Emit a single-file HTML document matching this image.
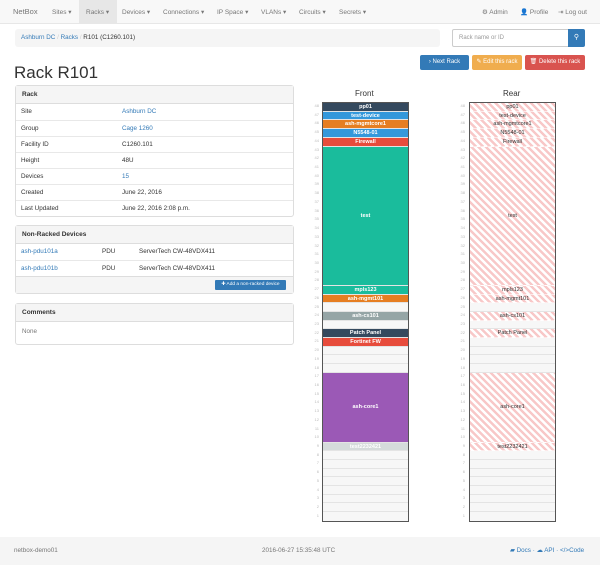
<!DOCTYPE html>
<html><head><meta charset="utf-8"><style>
*{box-sizing:border-box;margin:0;padding:0}
body{width:600px;height:565px;position:relative;background:#fff;font-family:"Liberation Sans",sans-serif;font-size:7px;color:#333;overflow:hidden}
.a{position:absolute}
.nav{left:0;top:0;width:600px;height:24px;background:#f8f8f8;border-bottom:1px solid #e7e7e7}
.nav span{position:absolute;top:8px;color:#777;font-size:6.5px}
.bc{left:15px;top:29px;width:425px;height:18px;background:#f5f5f5;border-radius:3px}
.btn{position:absolute;top:55px;height:15px;color:#fff;font-size:6px;line-height:15px;text-align:center;border-radius:2px}
.panel{position:absolute;left:15px;width:279px;border:1px solid #ddd;border-radius:3px;background:#fff}
.ph{background:#f5f5f5;border-bottom:1px solid #ddd;height:18px;line-height:18px;padding-left:6px;font-weight:bold;font-size:6.5px}
.row{height:16px;line-height:16px;border-top:1px solid #e8e8e8;position:relative;font-size:6.3px}
.ph+.row{border-top:none}
.row b{font-weight:normal;position:absolute;left:5px}
.row i{font-style:normal;position:absolute;left:106px}
.lk{color:#337ab7}
.rack{position:absolute;top:102px;width:87px;height:420px;border:1px solid #555;border-bottom-width:1.5px;display:flex;flex-direction:column;background:#f7f7f7}
.rack div{border-bottom:1px solid #e4e4e4;text-align:center;font-size:5.5px;color:#fff;font-weight:bold;overflow:hidden;white-space:nowrap}
.u1{height:8.72px;line-height:8px}
.e{background:#f7f7f7}
.nums{position:absolute;top:102px;width:10px;display:flex;flex-direction:column;color:#bbb;font-size:4px;text-align:right}
.nums span{height:8.72px;line-height:8.72px}
.rr div{color:#333;font-weight:normal;background:repeating-linear-gradient(45deg,#fff 0,#fff 2.5px,#f8c8c8 2.5px,#f8c8c8 5px);border-bottom:1px solid rgba(255,255,255,.6)}
.rr div.e{background:#f7f7f7;border-bottom:1px solid #e4e4e4}
</style></head><body>
<div class="a nav">
<span style="left:13px;font-size:7.5px;top:7px">NetBox</span>
<div class="a" style="left:79px;top:0;width:38px;height:24px;background:#e7e7e7"></div>
<span style="left:52px">Sites ▾</span><span style="left:86px">Racks ▾</span><span style="left:122px">Devices ▾</span><span style="left:163px">Connections ▾</span><span style="left:217px">IP Space ▾</span><span style="left:261px">VLANs ▾</span><span style="left:299px">Circuits ▾</span><span style="left:339px">Secrets ▾</span>
<span style="left:482px">⚙ Admin</span><span style="left:520px">👤 Profile</span><span style="left:558px">⇥ Log out</span>
</div>
<div class="a bc"><span class="a" style="left:6px;top:5px;font-size:6.3px"><span class="lk">Ashburn DC</span> <span style="color:#ccc">/</span> <span class="lk">Racks</span> <span style="color:#ccc">/</span> R101 (C1260.101)</span></div>
<div class="a" style="left:452px;top:29px;width:117px;height:18px;border:1px solid #ccc;border-radius:2px 0 0 2px"><span class="a" style="left:6px;top:5px;color:#999;font-size:6px">Rack name or ID</span></div>
<div class="a" style="left:568px;top:29px;width:17px;height:18px;background:#337ab7;border-radius:0 2px 2px 0;color:#fff;text-align:center;line-height:18px;font-size:7px">⚲</div>
<div class="btn" style="left:420px;width:49px;background:#337ab7">› Next Rack</div>
<div class="btn" style="left:472px;width:50px;background:#f0ad4e">✎ Edit this rack</div>
<div class="btn" style="left:525px;width:60px;background:#d9534f">🗑 Delete this rack</div>
<div class="a" style="left:14px;top:63px;font-size:17px;color:#333">Rack R101</div>

<div class="panel" style="top:85px">
<div class="ph">Rack</div>
<div class="row"><b>Site</b><i class="lk">Ashburn DC</i></div>
<div class="row"><b>Group</b><i class="lk">Cage 1260</i></div>
<div class="row"><b>Facility ID</b><i>C1260.101</i></div>
<div class="row"><b>Height</b><i>48U</i></div>
<div class="row"><b>Devices</b><i class="lk">15</i></div>
<div class="row"><b>Created</b><i>June 22, 2016</i></div>
<div class="row"><b>Last Updated</b><i>June 22, 2016 2:08 p.m.</i></div>
</div>
<div class="panel" style="top:225px">
<div class="ph">Non-Racked Devices</div>
<div class="row"><b class="lk">ash-pdu101a</b><i style="left:86px">PDU</i><i style="left:123px">ServerTech CW-48VDX411</i></div>
<div class="row"><b class="lk">ash-pdu101b</b><i style="left:86px">PDU</i><i style="left:123px">ServerTech CW-48VDX411</i></div>
<div style="background:#f5f5f5;border-top:1px solid #ddd;height:17px;position:relative"><div class="a" style="right:7px;top:3px;width:71px;height:10px;background:#337ab7;color:#fff;font-size:4.8px;line-height:10px;text-align:center;border-radius:1px">✚ Add a non-racked device</div></div>
</div>
<div class="panel" style="top:303px;height:42px">
<div class="ph">Comments</div>
<div style="padding:6px 6px;color:#777;font-size:6.3px">None</div>
</div>

<div class="a" style="left:355px;top:89px;font-size:8px">Front</div>
<div class="a" style="left:503px;top:89px;font-size:8px">Rear</div>

<div class="nums" style="left:309px"><span>48</span><span>47</span><span>46</span><span>45</span><span>44</span><span>43</span><span>42</span><span>41</span><span>40</span><span>39</span><span>38</span><span>37</span><span>36</span><span>35</span><span>34</span><span>33</span><span>32</span><span>31</span><span>30</span><span>29</span><span>28</span><span>27</span><span>26</span><span>25</span><span>24</span><span>23</span><span>22</span><span>21</span><span>20</span><span>19</span><span>18</span><span>17</span><span>16</span><span>15</span><span>14</span><span>13</span><span>12</span><span>11</span><span>10</span><span>9</span><span>8</span><span>7</span><span>6</span><span>5</span><span>4</span><span>3</span><span>2</span><span>1</span></div>
<div class="nums" style="left:455px"><span>48</span><span>47</span><span>46</span><span>45</span><span>44</span><span>43</span><span>42</span><span>41</span><span>40</span><span>39</span><span>38</span><span>37</span><span>36</span><span>35</span><span>34</span><span>33</span><span>32</span><span>31</span><span>30</span><span>29</span><span>28</span><span>27</span><span>26</span><span>25</span><span>24</span><span>23</span><span>22</span><span>21</span><span>20</span><span>19</span><span>18</span><span>17</span><span>16</span><span>15</span><span>14</span><span>13</span><span>12</span><span>11</span><span>10</span><span>9</span><span>8</span><span>7</span><span>6</span><span>5</span><span>4</span><span>3</span><span>2</span><span>1</span></div>

<div class="rack" style="left:322px">
<div class="u1" style="background:#34495e">pp01</div>
<div class="u1" style="background:#3498db">test-device</div>
<div class="u1" style="background:#e67e22">ash-mgmtcore1</div>
<div class="u1" style="background:#3498db">N5548-01</div>
<div class="u1" style="background:#e74c3c">Firewall</div>
<div style="height:139.5px;line-height:139px;background:#1abc9c">test</div>
<div class="u1" style="background:#1abc9c">mpls123</div>
<div class="u1" style="background:#e67e22">ash-mgmt101</div>
<div class="u1 e"></div>
<div class="u1" style="background:#95a5a6">ash-cs101</div>
<div class="u1 e"></div>
<div class="u1" style="background:#34495e">Patch Panel</div>
<div class="u1" style="background:#e74c3c">Fortinet FW</div>
<div class="u1 e"></div><div class="u1 e"></div><div class="u1 e"></div>
<div style="height:69.8px;line-height:69px;background:#9b59b6">ash-core1</div>
<div class="u1" style="background:#d5dbdb">test2232421</div>
<div class="u1 e"></div><div class="u1 e"></div><div class="u1 e"></div><div class="u1 e"></div><div class="u1 e"></div><div class="u1 e"></div><div class="u1 e"></div><div class="u1 e" style="border:none"></div>
</div>

<div class="rack rr" style="left:469px">
<div class="u1">pp01</div>
<div class="u1">test-device</div>
<div class="u1">ash-mgmtcore1</div>
<div class="u1">N5548-01</div>
<div class="u1">Firewall</div>
<div style="height:139.5px;line-height:139px">test</div>
<div class="u1">mpls123</div>
<div class="u1">ash-mgmt101</div>
<div class="u1 e"></div>
<div class="u1">ash-cs101</div>
<div class="u1 e"></div>
<div class="u1">Patch Panel</div>
<div class="u1 e"></div>
<div class="u1 e"></div><div class="u1 e"></div><div class="u1 e"></div>
<div style="height:69.8px;line-height:69px">ash-core1</div>
<div class="u1">test2232421</div>
<div class="u1 e"></div><div class="u1 e"></div><div class="u1 e"></div><div class="u1 e"></div><div class="u1 e"></div><div class="u1 e"></div><div class="u1 e"></div><div class="u1 e" style="border:none"></div>
</div>

<div class="a" style="left:0;top:537px;width:600px;height:28px;background:#f5f5f5">
<span class="a" style="left:14px;top:10px;color:#777;font-size:6.3px">netbox-demo01</span>
<span class="a" style="left:262px;top:10px;color:#777;font-size:6.3px">2016-06-27 15:35:48 UTC</span>
<span class="a" style="left:510px;top:10px;color:#337ab7;font-size:6.3px">▰ Docs · ☁ API · &lt;/&gt;Code</span>
</div>
</body></html>
